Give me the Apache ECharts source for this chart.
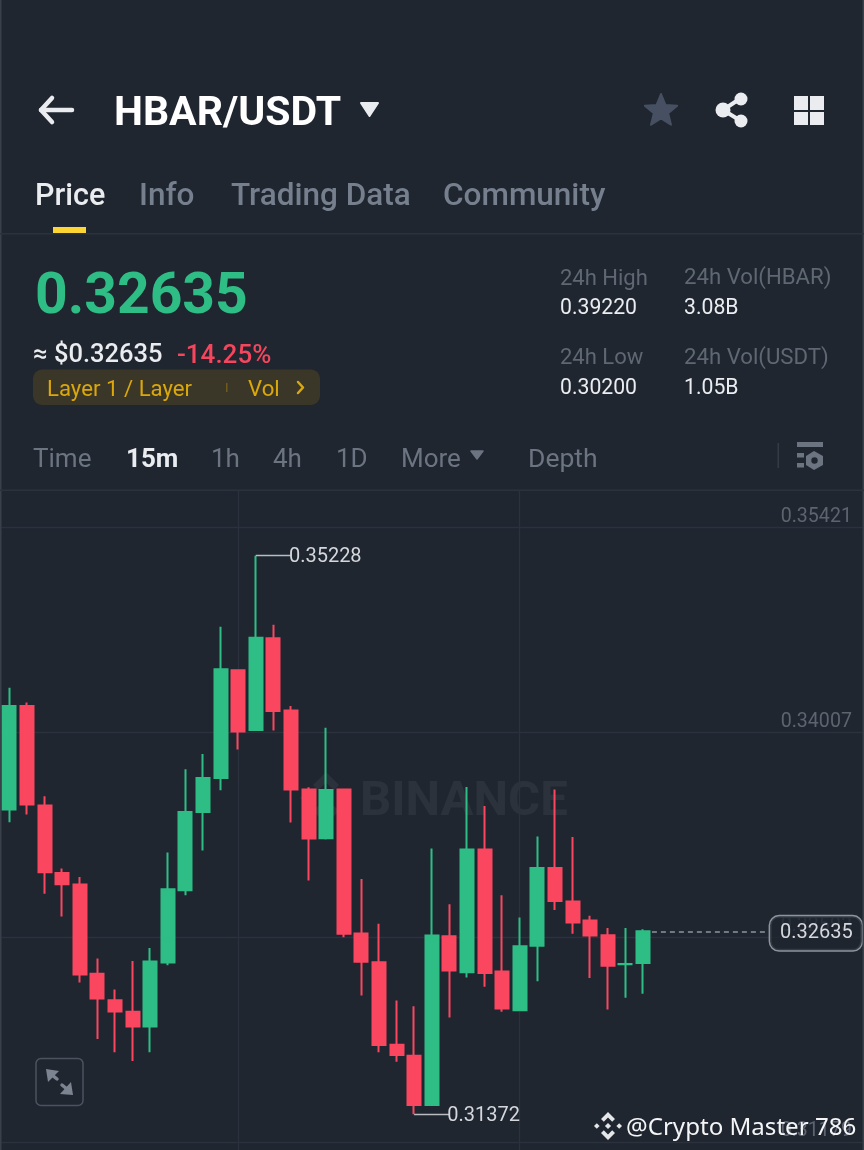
<!DOCTYPE html>
<html>
<head>
<meta charset="utf-8">
<style>html,body{margin:0;padding:0;background:#1f2630}#c{width:864px;height:1150px}</style>
<script src="https://cdn.jsdelivr.net/npm/echarts@6/dist/echarts.min.js"></script>
</head>
<body>
<div id="c"></div>
<script>
const slots = ['1','2','3','4','5','6','7','8','9','10','11','12','13','14','15','16','17','18','19','20','21','22','23','24','25','26','27','28','29','30','31','32','33','34','35','36','37','38','39','40','41','42','43','44','45','46','47','48','49'];
const opens  = [0.33476,0.34190,0.33503,0.33038,0.32958,0.32342,0.32160,0.32080,0.31979,0.32420,0.32919,0.33459,0.33694,0.34437,0.34025,0.34659,0.34159,0.33614,0.33278,0.33614,0.32620,0.32422,0.31852,0.31776,0.31436,0.32602,0.32353,0.33200,0.32358,0.32091,0.32535,0.33073,0.32841,0.32710,0.32609,0.32408,0.32416];
const closes = [0.34190,0.33510,0.33043,0.32960,0.32338,0.32172,0.32082,0.31979,0.32427,0.32926,0.33459,0.33694,0.34444,0.34014,0.34662,0.34156,0.33614,0.33276,0.33611,0.32618,0.32425,0.31850,0.31781,0.31436,0.32607,0.32365,0.33200,0.32347,0.32103,0.32533,0.33073,0.32844,0.32696,0.32607,0.32397,0.32410,0.32635];
const lows   = [0.33388,0.33441,0.32894,0.32738,0.32282,0.31893,0.31800,0.31740,0.31800,0.32402,0.32885,0.33193,0.33609,0.33890,0.34024,0.34021,0.33386,0.32986,0.33269,0.32595,0.32193,0.31800,0.31735,0.31372,0.31429,0.32041,0.32317,0.32252,0.32080,0.32091,0.32291,0.32782,0.32618,0.32314,0.32096,0.32176,0.32204];
const highs  = [0.34317,0.34214,0.33567,0.33069,0.33011,0.32448,0.32234,0.32431,0.32521,0.33179,0.33754,0.33859,0.34738,0.34440,0.35228,0.34752,0.34190,0.33630,0.34041,0.33621,0.32997,0.32687,0.32158,0.32119,0.33207,0.32822,0.33632,0.33501,0.32885,0.32731,0.33290,0.33614,0.33287,0.32742,0.32659,0.32659,0.32650];
const priceTicks = [0.31179,0.32593,0.34007,0.35421];
const lastPrice = 0.32635, highPrice = 0.35228, lowPrice = 0.31372;
const UP = '#2EBD85', DOWN = '#FB4660', BG = '#1f2630', GRID = '#2b323d';
const F = 'Roboto, sans-serif';

function T(text, x, cy, size, color, weight, family) {
  return {type:'text', z:10, style:{text, x, y:cy+4, fontSize:size, fill:color, fontWeight:weight||400,
    fontFamily:family||F, textVerticalAlign:'middle', verticalAlign:'middle', align:'left'}};
}
function R(x,y,w,h,fill,r){return {type:'rect',z:10,shape:{x,y,width:w,height:h,r:r||0},style:{fill}};}
function P(points,fill){return {type:'polygon',z:10,shape:{points},style:{fill}};}
function L(points,stroke,w){return {type:'polyline',z:10,shape:{points},style:{stroke,lineWidth:w,fill:null,lineCap:'round',lineJoin:'round'}};}
function C(cx,cy,r,fill){return {type:'circle',z:10,shape:{cx,cy,r},style:{fill}};}
function star(cx,cy,R0,r0,fill){const p=[];for(let i=0;i<10;i++){const a=-Math.PI/2+i*Math.PI/5,q=i%2?r0:R0;p.push([cx+q*Math.cos(a),cy+q*Math.sin(a)]);}return {type:'polygon',z:10,shape:{points:p},style:{fill,stroke:fill,lineWidth:2,lineJoin:'round'}};}
function logo(cx,cy,s,fill,z){
  const parts=[[[0,-1],[.5,-.5],[.3,-.3],[0,-.6],[-.3,-.3],[-.5,-.5]],[[0,1],[.5,.5],[.3,.3],[0,.6],[-.3,.3],[-.5,.5]],
    [[-1,0],[-.8,-.2],[-.6,0],[-.8,.2]],[[1,0],[.8,-.2],[.6,0],[.8,.2]],[[0,-.22],[.22,0],[0,.22],[-.22,0]]];
  return parts.map(a=>({type:'polygon',z:z,shape:{points:a.map(q=>[cx+q[0]*s,cy+q[1]*s])},style:{fill}}));
}
const MUTED='#6c7482', DIM='#5f6773', WHITE='#eaecef', GOLD='#dba80c', TAB='#767f8e';
const graphics = [
  R(0,0,1.5,1150,'#3a404a'), R(862.5,0,1.5,1150,'#3a404a'),
  // header
  L([[52,98],[41,110],[52,122]],WHITE,4.5), L([[41,110],[72,110]],WHITE,4.5),
  T('HBAR/USDT',114,111,41,'#ffffff',700),
  {type:'polygon',z:10,shape:{points:[[361,103],[378,103],[369.5,116]]},style:{fill:WHITE,stroke:WHITE,lineWidth:2,lineJoin:'round'}},
  star(661,111,17,7.5,'#465062'),
  L([[741,98],[723,110],[741,121]],WHITE,4), C(723,110,7.5,WHITE), C(741,99,6.5,WHITE), C(741,121,6.5,WHITE),
  R(794,96,14,14,WHITE), R(810,96,14,14,WHITE), R(794,112,14,13,WHITE), R(810,112,14,13,WHITE),
  // tabs
  T('Price',35,193,30.5,WHITE,500), T('Info',139,193,31.5,TAB,500), T('Trading Data',231,193,31.5,TAB,500), T('Community',443,193,31.5,TAB,500),
  R(53,227,33,6.5,'#FCD535'), R(0,233,864,1.5,GRID),
  // price block
  T('0.32635',35,295,57,UP,700),
  T('≈ $0.32635',33,352,25.5,WHITE,500), T('-14.25%',177,352,26,'#F6465D',500),
  R(33,369.5,287,35.5,'#3b3728',9),
  T('Layer 1 / Layer',47,386,22.2,GOLD), R(226,383,1.5,9,'#6e5c1f'), T('Vol',248,386,22.2,GOLD),
  L([[298,382],[303,387.5],[298,393]],GOLD,2.5),
  T('24h High',560,275,22,DIM), T('0.39220',560,305,21.2,WHITE), T('24h Vol(HBAR)',684,274,22.2,DIM), T('3.08B',684,305,21.2,WHITE),
  T('24h Low',560,354,22,DIM), T('0.30200',560,385,21.2,WHITE), T('24h Vol(USDT)',684,354,22.2,DIM), T('1.05B',684,385,21.2,WHITE),
  // interval row
  T('Time',33,456,26,MUTED), T('15m',126,456,26,WHITE,700), T('1h',211,456,26,MUTED), T('4h',273,456,26,MUTED), T('1D',336,456,26,MUTED), T('More',401,456,26,MUTED),
  {type:'polygon',z:10,shape:{points:[[471,451],[483,451],[477,459]]},style:{fill:MUTED,stroke:MUTED,lineWidth:1.5,lineJoin:'round'}},
  T('Depth',528,456,26.5,MUTED),
  R(777.5,443,1.5,25,'#343b46'),
  R(797,442,26,5,MUTED), R(797,453,7,4.5,MUTED), R(797,463,7,4.5,MUTED),
  {type:'polygon',z:10,shape:{points:[[814,451],[823,456],[823,465],[814,470],[806,465],[806,456]]},style:{fill:MUTED}},
  C(814.5,460.5,3.2,BG),
  R(0,489.5,864,1.5,GRID),
  // chart watermark
  {type:'text',z:1,style:{text:'BINANCE',x:360,y:803,fontSize:49,fontWeight:700,fontFamily:F,fill:'rgba(255,255,255,0.06)',verticalAlign:'middle',textVerticalAlign:'middle'}},
  ...logo(326,798,26,'rgba(255,255,255,0.06)',1),
  // expand button
  {type:'rect',z:10,shape:{x:36,y:1058.5,width:47,height:47,r:5},style:{fill:'none',stroke:'#4c535f',lineWidth:1.5}},
  P([[46,1069],[59,1071],[48,1082]],'#7d8491'), P([[73,1095],[60,1094],[71,1082]],'#7d8491'),
  L([[52,1075],[57,1079]],'#7d8491',3.5), L([[62,1085],[67,1089]],'#7d8491',3.5),
  // author stamp
  ...logo(608,1126,14,'#e4e6e8',10),
  T('@Crypto Master 786',626,1124.5,24.1,'#f4f5f6',400,'"Noto Sans", sans-serif')
];

const annotLabel = {show:true, position:'end', color:'#d4d7db', fontSize:20, fontFamily:F, distance:-2, offset:[0,1.5], formatter:p=>p.value.toFixed(5)};
const option = {
  animation:false,
  backgroundColor:BG,
  grid:{left:0.5,right:1.1,top:490.5,bottom:-0.5},
  xAxis:{type:'category',data:slots,show:false,boundaryGap:true},
  yAxis:{type:'value',position:'right',min:0.31126,max:0.35678,scale:true,
    axisLine:{show:false},
    axisTick:{show:false,customValues:priceTicks},
    splitLine:{show:true,lineStyle:{color:GRID,width:1.3}},
    axisLabel:{inside:true,customValues:priceTicks,margin:11,color:'#5d6470',fontSize:19.6,fontFamily:F,verticalAlign:'bottom',padding:[0,0,1,0],
      formatter:v=>v.toFixed(5)}},
  graphic:graphics,
  series:[
    {type:'line',data:[],silent:true,z:1,
     markLine:{z:1,silent:true,symbol:'none',animation:false,
       data:[
         {xAxis:13,label:{show:false},lineStyle:{color:GRID,width:1.3,type:'solid'}},
         {xAxis:29,label:{show:false},lineStyle:{color:GRID,width:1.3,type:'solid'}},
         [{coord:[36,lastPrice],lineStyle:{color:'#8f949c',width:1.5,type:[5,4]},
           label:{show:true,position:'end',distance:4,offset:[0,2],formatter:'0.32635',color:'#d4d7db',fontSize:20,fontFamily:F,
             borderColor:'#8f949c',borderWidth:1.5,borderRadius:9,padding:[7,9,7,10],backgroundColor:'rgba(31,38,48,0.82)'}},
          {coord:[43,lastPrice]}]
       ]}},
    {type:'candlestick',name:'HBAR/USDT',z:2,barWidth:13.5,silent:true,
     data:opens.map((o,i)=>[o,closes[i],lows[i],highs[i]]),
     itemStyle:{color:UP,color0:DOWN,borderColor:UP,borderColor0:DOWN,borderWidth:2},
     markLine:{z:5,silent:true,symbol:'none',animation:false,
       lineStyle:{color:'#b9bcc1',width:1.3,type:'solid'},
       label:annotLabel,
       data:[
         [{coord:[14,highPrice],value:highPrice},{coord:[16,highPrice]}],
         [{coord:[23,lowPrice],value:lowPrice},{coord:[25,lowPrice]}]
       ]}}
  ]
};
echarts.init(document.getElementById('c'),null,{renderer:'canvas',width:864,height:1150}).setOption(option);
</script>
</body>
</html>
